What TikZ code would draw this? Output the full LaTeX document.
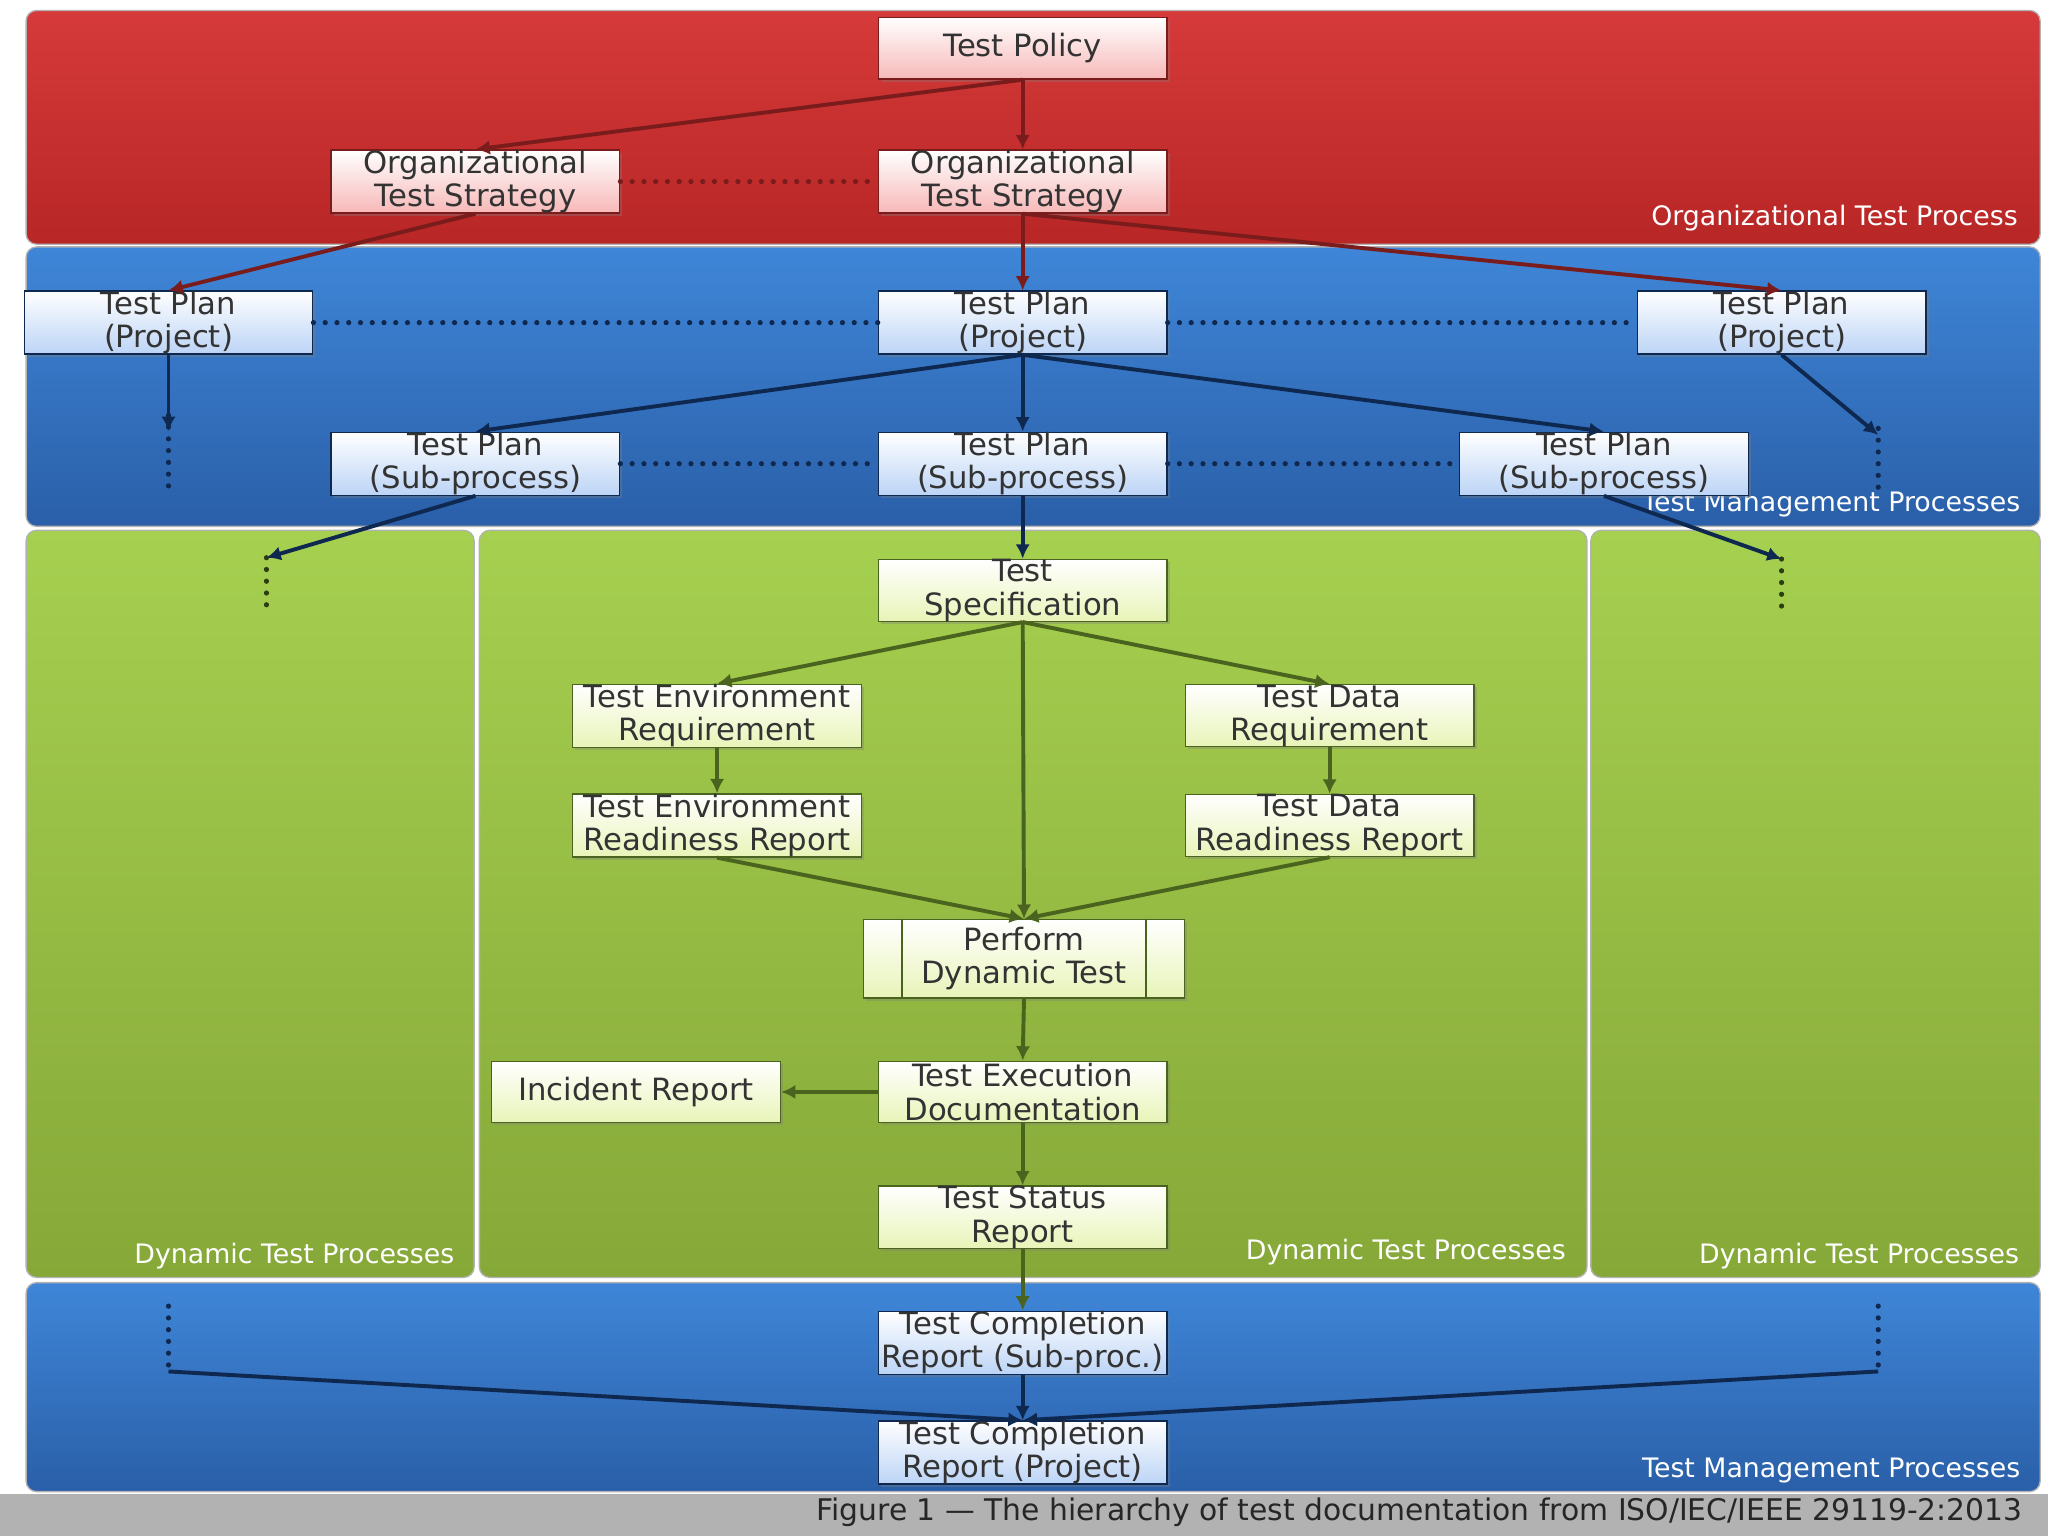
\documentclass[tikz,border=0pt]{standalone}
\usepackage{fontspec}
\setmainfont{DejaVu Sans}
\usetikzlibrary{shadows,arrows.meta}
\definecolor{bandred}{HTML}{D63A3A}
\definecolor{bandredd}{HTML}{B82626}
\definecolor{bandblue}{HTML}{3F86D8}
\definecolor{bandblued}{HTML}{2A5FA8}
\definecolor{panelg}{HTML}{A6D050}
\definecolor{panelgd}{HTML}{86A838}
\definecolor{ared}{HTML}{7A1C1C}
\definecolor{ablue}{HTML}{0F2850}
\definecolor{agreen}{HTML}{4A6420}
\definecolor{nblue}{HTML}{BCD4F6}
\definecolor{ngreen}{HTML}{E8F4B8}
\definecolor{nred}{HTML}{F7B8B8}
\tikzset{
 doc/.style={draw, line width=1pt, minimum width=221pt, minimum height=47pt, inner sep=0pt, align=center,
   font=\fontsize{23.5}{25.5}\selectfont, drop shadow={shadow xshift=2pt,shadow yshift=-2pt,opacity=.35}},
 rdoc/.style={doc, draw=ared, top color=white, bottom color=nred, text=black!80},
 bdoc/.style={doc, draw=ablue, top color=white, bottom color=nblue, text=black!80},
 gdoc/.style={doc, draw=agreen, top color=white, bottom color=ngreen, text=black!80},
 band/.style={rounded corners=8pt, draw=white!70!black, line width=1pt},
 blbl/.style={text=white, font=\fontsize{20.5}{22}\selectfont, anchor=south east, inner sep=0pt},
 ra/.style={draw=ared, line width=3pt, -{Latex[length=11pt,width=11pt]}},
 ba/.style={draw=ablue, line width=3pt, -{Latex[length=11pt,width=11pt]}},
 ga/.style={draw=agreen, line width=3pt, -{Latex[length=11pt,width=11pt]}},
 dotl/.style={line width=4pt, line cap=round, dash pattern=on 0pt off 9pt},
}
\begin{document}
\begin{tikzpicture}[x=1pt,y=-1pt]
\useasboundingbox (0,0) rectangle (1568,1176);
\fill[white] (0,0) rectangle (1568,1176);
% bands
\shade[band, top color=bandred, bottom color=bandredd] (20,8) rectangle (1562,187);
\shade[band, top color=bandblue, bottom color=bandblued] (20,189) rectangle (1562,403);
\shade[band, top color=panelg, bottom color=panelgd] (20,406) rectangle (363,978);
\shade[band, top color=panelg, bottom color=panelgd] (367,406) rectangle (1215,978);
\shade[band, top color=panelg, bottom color=panelgd] (1218,406) rectangle (1562,978);
\shade[band, top color=bandblue, bottom color=bandblued] (20,982) rectangle (1562,1142);
\fill[black!30] (0,1144) rectangle (1568,1176);
\node[blbl] (l1) at (1545,177) {Organizational Test Process};
\node[blbl] (l2) at (1547,396) {Test Management Processes};
\node[blbl] (l3) at (348,972) {Dynamic Test Processes};
\node[blbl] (l4) at (1199,969) {Dynamic Test Processes};
\node[blbl] (l5) at (1546,972) {Dynamic Test Processes};
\node[blbl] (l6) at (1547,1136) {Test Management Processes};
\node[anchor=east, font=\fontsize{22.8}{24}\selectfont, text=black!85] (cap) at (1552,1158) {Figure 1 — The hierarchy of test documentation from ISO/IEC/IEEE 29119-2:2013};
% nodes
\node[rdoc] (pol) at (783,37) {Test Policy};
\node[rdoc] (otsl) at (364,139) {Organizational\\Test Strategy};
\node[rdoc] (otsr) at (783,139) {Organizational\\Test Strategy};
\node[bdoc] (tpl) at (129,247) {Test Plan\\(Project)};
\node[bdoc] (tpm) at (783,247) {Test Plan\\(Project)};
\node[bdoc] (tpr) at (1364,247) {Test Plan\\(Project)};
\node[bdoc] (spl) at (364,355) {Test Plan\\(Sub-process)};
\node[bdoc] (spm) at (783,355) {Test Plan\\(Sub-process)};
\node[bdoc] (spr) at (1228,355) {Test Plan\\(Sub-process)};
\node[gdoc] (spec) at (783,452) {Test\\Specification};
\node[gdoc] (ter) at (549,548) {Test Environment\\Requirement};
\node[gdoc] (tdr) at (1018,548) {Test Data\\Requirement};
\node[gdoc] (terr) at (549,632) {Test Environment\\Readiness Report};
\node[gdoc] (tdrr) at (1018,632) {Test Data\\Readiness Report};
\node[gdoc, minimum width=246pt, minimum height=60pt] (pdt) at (784,734) {Perform\\Dynamic Test};
\draw[agreen, line width=1pt] ([xshift=30pt]pdt.north west) -- ([xshift=30pt]pdt.south west)
  ([xshift=-30pt]pdt.north east) -- ([xshift=-30pt]pdt.south east);
\node[gdoc] (ted) at (783,836) {Test Execution\\Documentation};
\node[gdoc] (inc) at (487,836) {Incident Report};
\node[gdoc] (tsr) at (783,932) {Test Status\\Report};
\node[bdoc] (tcs) at (783,1028) {Test Completion\\Report (Sub-proc.)};
\node[bdoc] (tcp) at (783,1112) {Test Completion\\Report (Project)};
% coordinates
\coordinate (c1) at (129,330); \coordinate (c1b) at (129,375);
\coordinate (c2) at (1438,333); \coordinate (c2b) at (1438,375);
\coordinate (c3) at (204,427); \coordinate (c3b) at (204,468);
\coordinate (c4) at (1364,428); \coordinate (c4b) at (1364,468);
\coordinate (c5) at (129,1000); \coordinate (c5b) at (129,1050);
\coordinate (c6) at (1438,1000); \coordinate (c6b) at (1438,1050);
% dotted
\draw[dotl, ared] (otsl.east) -- (otsr.west);
\draw[dotl, ablue] (tpl.east) -- (tpm.west) (tpm.east) -- (tpr.west);
\draw[dotl, ablue] (spl.east) -- (spm.west) (spm.east) -- (spr.west);
\draw[dotl, ablue] ([yshift=12pt]c1) -- (c1b) ([yshift=5pt]c2) -- (c2b);
\draw[dotl, agreen!60!black] (c3) -- (c3b) (c4) -- (c4b);
\draw[dotl, ablue] (c5) -- (c5b) (c6) -- (c6b);
% arrows
\draw[ra] (pol.south) -- (otsl.north);
\draw[ra] (pol.south) -- (otsr.north);
\draw[ra] (otsl.south) -- (tpl.north);
\draw[ra] (otsr.south) -- (tpm.north);
\draw[ra] (otsr.south) -- (tpr.north);
\draw[ba] (tpl.south) -- (c1);
\draw[ba] (tpm.south) -- (spl.north);
\draw[ba] (tpm.south) -- (spm.north);
\draw[ba] (tpm.south) -- (spr.north);
\draw[ba] (tpr.south) -- (c2);
\draw[ba] (spl.south) -- (c3);
\draw[ba] (spm.south) -- (spec.north);
\draw[ba] (spr.south) -- (c4);
\draw[ga] (spec.south) -- (ter.north);
\draw[ga] (spec.south) -- (tdr.north);
\draw[ga] (spec.south) -- (pdt.north);
\draw[ga] (ter.south) -- (terr.north);
\draw[ga] (tdr.south) -- (tdrr.north);
\draw[ga] (terr.south) -- (pdt.north);
\draw[ga] (tdrr.south) -- (pdt.north);
\draw[ga] (pdt.south) -- (ted.north);
\draw[ga] (ted.west) -- (inc.east);
\draw[ga] (ted.south) -- (tsr.north);
\draw[ga] (tsr.south) -- (tcs.north);
\draw[ba] (tcs.south) -- (tcp.north);
\draw[ba] (c5b) -- (tcp.north);
\draw[ba] (c6b) -- (tcp.north);
\end{tikzpicture}
\end{document}
